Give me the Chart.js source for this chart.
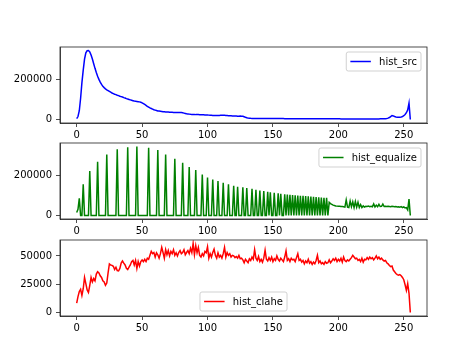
<!DOCTYPE html>
<html><head><meta charset="utf-8">
<script src="https://cdn.jsdelivr.net/npm/chart.js@4"></script>
<style>
html,body{margin:0;padding:0;background:#fff;}
#wrap{position:relative;width:474px;height:355px;overflow:hidden;background:#fff;}
canvas{position:absolute;left:0;}
</style></head><body><div id="wrap">
<canvas id="c1" width="474" height="104" style="top:37px"></canvas>
<canvas id="c2" width="474" height="104" style="top:133px"></canvas>
<canvas id="c3" width="474" height="104" style="top:230px"></canvas>
</div>
<script>
// categories: gray levels 0..255
const bins = Array.from({length:256}, (_, i) => i);
const xTicks = [0, 50, 100, 150, 200, 250];
const yTicksSrc = [0, 200000];
const yTicksEq = [0, 200000];
const yTicksClahe = [0, 25000, 50000];

const histSrc = [
4700,15000,44000,106000,184000,246000,301000,332000,343000,344000,337000,321000,301000,278000,255000,234000,
216000,200000,186000,175000,166000,159000,153000,148000,144000,140000,136000,132000,129000,126000,124000,121000,
119000,116000,114000,112000,109000,107000,104000,102000,100000,98000,96000,94000,92000,91000,90000,89000,
88000,86000,83000,79000,75000,71000,66000,62000,58000,55000,52000,49000,47000,45000,43000,42000,
41000,40000,39000,38500,38000,37500,37000,36500,36000,36000,35500,35500,35000,35500,35500,35000,
34500,33500,32000,30500,29000,28000,27000,26000,25500,25000,25000,24500,24500,24500,24000,24000,
23500,23500,23000,23000,22500,22000,21500,21000,20500,20000,20000,20000,20500,20500,21000,21000,
21500,21000,20500,20000,19500,19000,18500,18000,18000,17500,17500,17000,17000,17500,17000,16500,
14000,11000,9000,7500,6500,6000,5800,5600,5500,5500,5400,5400,5300,5300,5200,5200,
5100,5100,5000,5000,5000,4900,4900,4800,4800,4800,4700,4700,4600,4600,4600,4500,
4500,4500,4400,4400,4400,4300,4300,4300,4200,4200,4200,4100,4100,4100,4000,4000,
4000,3900,3900,3900,3800,3800,3800,3800,3700,3700,3700,3700,3600,3600,3600,3600,
3500,3500,3500,3500,3500,3400,3400,3400,3400,3400,3300,3300,3300,3300,3300,3300,
3200,3200,3200,3200,3200,3200,3200,3200,3100,3100,3100,3100,3100,3100,3100,3100,
3100,3100,3100,3200,3200,3200,3300,3300,3400,3500,3600,3800,4200,5000,7000,10000,
15000,20000,18000,15000,13000,12000,11000,11000,12000,15000,19000,25000,34000,48000,82000,0
];

const histEqualize = [
15000,31000,86000,0,0,156000,0,0,0,0,222000,0,0,0,0,0,
269000,0,0,0,0,0,0,305000,0,0,0,0,0,0,0,331000,
0,0,0,0,0,0,0,341000,0,0,0,0,0,0,345000,0,
0,0,0,0,0,0,0,339000,0,0,0,0,0,0,327000,0,
0,0,0,0,305000,0,0,0,0,0,0,284000,0,0,0,0,
0,264000,0,0,0,0,242000,0,0,0,0,227000,0,0,0,0,
205000,0,0,0,190000,0,0,0,180000,0,0,0,172000,0,0,0,
164000,0,0,0,156000,0,0,0,149000,0,0,144000,0,0,0,141000,
0,0,137000,0,0,0,133000,0,0,128000,0,0,125000,0,0,122000,
0,0,119000,0,116000,0,0,114000,0,0,111000,0,109000,0,0,106000,
0,105000,0,103000,0,102000,0,101000,0,100000,0,99000,0,98000,0,97000,
0,96000,0,95000,0,93000,0,92000,0,91000,0,90000,0,89000,0,88000,
0,66000,60000,56000,52000,50000,48000,47000,46000,46000,45000,45000,44000,42000,78000,42000,
40000,72000,44000,68000,40000,70000,42000,66000,40000,55000,40000,48000,42000,46000,45000,47000,
44000,46000,44000,58000,43000,52000,44000,56000,45000,46000,57000,45000,46000,45000,46000,45000,
44000,46000,45000,44000,45000,43000,44000,42000,45000,40000,43000,38000,40000,28000,82000,0
];

const histClahe = [
8300,14000,18600,20500,15000,21000,31000,25500,20000,17700,24000,31000,27000,30000,28000,34000,
36000,35000,32500,31000,28000,27000,24000,26000,35000,43000,42000,41700,40800,38000,40000,37000,
36700,39000,43600,45500,43600,42000,39000,38000,40000,42000,45000,46000,42000,46000,39000,45000,
41000,45000,46400,45000,47000,45000,48000,47000,50500,54000,52000,53000,49000,52800,51000,48000,
52000,57500,53000,48000,55500,51000,54700,50000,54000,52000,55500,50500,52800,50000,53000,54700,
52000,53000,55500,51000,53000,54700,52000,56700,53000,61000,51000,59000,52800,57500,50500,49000,
52000,50000,54000,52800,58000,48000,52000,49000,53000,56000,50500,48000,52800,49000,50500,48000,
52000,57500,49000,53000,50500,52000,49000,50500,50000,48500,49500,48000,50500,47500,48000,46500,
44000,47000,45500,44000,47500,46000,49000,47000,55500,48000,46000,49500,45000,47000,44500,48000,
55000,47000,45500,48500,46000,49000,45000,47500,46000,50000,47000,45500,48000,46500,45000,49000,
54500,46000,47500,45000,48000,46500,47000,45000,48500,52000,46000,47000,44500,46000,43000,45500,
44000,47000,43500,45000,42500,44500,43000,46000,50500,44000,45500,43000,44000,42500,45000,43500,
44000,46500,44000,45500,47500,46000,48000,45000,47000,45500,48000,44500,49000,46000,45000,46500,
45500,47000,48500,50500,49000,47500,48000,46000,47000,45000,48000,44500,47000,46500,48500,47000,
49000,47500,48500,46500,48000,50000,47500,49000,47000,48000,46500,45500,46000,44000,43000,41500,
40500,41000,37500,36000,34500,33500,33000,33500,32500,31000,29000,24500,19500,25500,17000,0
];

const AX = '#222';
const FONT = {family: '"DejaVu Sans"', size: 10};

const framePlugin = {
  id: 'frame',
  afterDatasetsDraw(chart) {
    const {ctx, chartArea: a} = chart;
    ctx.save();
    ctx.strokeStyle = AX; ctx.lineWidth = 0.8;
    ctx.strokeRect(a.left, a.top, a.right - a.left, a.bottom - a.top);
    ctx.restore();
  }
};

const mplLegend = {
  id: 'mplLegend',
  afterDraw(chart, args, opts) {
    const {ctx, chartArea: a} = chart;
    const ds = chart.data.datasets[0];
    ctx.save();
    ctx.font = '10px "DejaVu Sans"';
    const tw = ctx.measureText(ds.label).width;
    const pad = 4.1, hl = 20.5, htp = 8.2, h = 19;
    const w = pad + hl + htp + tw + pad;
    let x, y;
    if (opts.loc === 'upper right') { x = a.right - 6 - w; y = a.top + 5; }
    else { x = (a.left + a.right) / 2 - w / 2; y = a.bottom - 5 - h; }
    ctx.beginPath();
    ctx.roundRect(x, y, w, h, 2);
    ctx.fillStyle = 'rgba(255,255,255,0.8)'; ctx.fill();
    ctx.strokeStyle = 'rgba(204,204,204,0.9)'; ctx.lineWidth = 1; ctx.stroke();
    ctx.strokeStyle = ds.borderColor; ctx.lineWidth = 1.5;
    ctx.beginPath(); ctx.moveTo(x + pad, y + h / 2); ctx.lineTo(x + pad + hl, y + h / 2); ctx.stroke();
    ctx.fillStyle = '#000'; ctx.textBaseline = 'middle';
    ctx.fillText(ds.label, x + pad + hl + htp, y + h / 2 + 0.5);
    ctx.restore();
  }
};

function makeChart(id, values, color, label, yTicks, loc) {
  const ymin = Math.min(...values), ymax = Math.max(...values);
  const m = (ymax - ymin) * 0.05;
  const gridOpts = {drawOnChartArea: false, drawTicks: true, tickLength: 4, tickColor: AX, tickWidth: 0.8};
  return new Chart(document.getElementById(id), {
    type: 'line',
    data: {labels: bins, datasets: [{label, data: values, borderColor: color, borderWidth: 1.5,
      pointRadius: 0, tension: 0, fill: false}]},
    options: {
      responsive: false, animation: false, events: [],
      layout: {padding: {top: 6, right: 47, left: 0, bottom: 0}},
      plugins: {legend: {display: false}, tooltip: {enabled: false}, mplLegend: {loc}},
      scales: {
        x: {type: 'linear', min: -12.75, max: 267.75,
          afterBuildTicks: s => { s.ticks = xTicks.map(v => ({value: v})); },
          afterFit: s => { s.height = 18; },
          grid: gridOpts, border: {display: true, color: AX, width: 0.8},
          ticks: {padding: 2, color: '#000', font: FONT, maxRotation: 0, autoSkip: false, callback: v => String(v)}},
        y: {min: ymin - m, max: ymax + m,
          afterBuildTicks: s => { s.ticks = yTicks.map(v => ({value: v})); },
          afterFit: s => { s.width = 60; },
          grid: gridOpts, border: {display: true, color: AX, width: 0.8},
          ticks: {padding: 4, color: '#000', font: FONT, autoSkip: false, callback: v => String(v)}}
      }
    },
    plugins: [framePlugin, mplLegend]
  });
}

makeChart('c1', histSrc, '#0000ff', 'hist_src', yTicksSrc, 'upper right');
makeChart('c2', histEqualize, '#008000', 'hist_equalize', yTicksEq, 'upper right');
makeChart('c3', histClahe, '#ff0000', 'hist_clahe', yTicksClahe, 'lower center');
</script></body></html>
